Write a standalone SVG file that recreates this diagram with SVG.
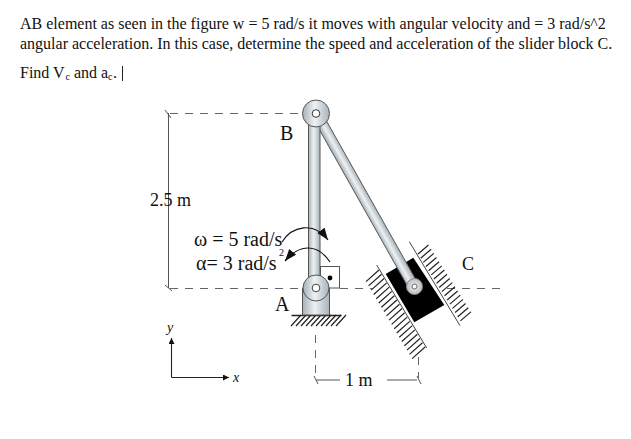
<svg xmlns="http://www.w3.org/2000/svg" width="631" height="439" viewBox="0 0 631 439">
<style>
text{font-family:"Liberation Serif","Times New Roman",serif;fill:#111}
.p{font-size:16px}.l{font-size:20px}.m{font-size:18px}
.thin{fill:none;stroke:#555;stroke-width:1}
.dash{fill:none;stroke:#666;stroke-width:1;stroke-dasharray:8 7}
.hat{fill:none;stroke:#222;stroke-width:1.2}
.rail{fill:none;stroke:#444;stroke-width:1}
.bar{stroke:#555;stroke-width:1}
.ax{fill:none;stroke:#222;stroke-width:1.1}
.curve{fill:none;stroke:#111;stroke-width:1.2}
</style>
<defs>
<linearGradient id="g" x1="0" x2="1" y1="0" y2="0"><stop offset="0" stop-color="#a6b1b8"/><stop offset=".45" stop-color="#eef1f3"/><stop offset="1" stop-color="#a8b3ba"/></linearGradient>
<linearGradient id="gd" gradientUnits="userSpaceOnUse" x1="377" y1="232.600" x2="386.400" y2="227.400"><stop offset="0" stop-color="#a6b1b8"/><stop offset=".45" stop-color="#eef1f3"/><stop offset="1" stop-color="#a8b3ba"/></linearGradient>
<radialGradient id="gc"><stop offset="0" stop-color="#f2f4f5"/><stop offset="1" stop-color="#b4bec5"/></radialGradient>
<marker id="a" markerWidth="8" markerHeight="8" refX="6" refY="3" orient="auto" markerUnits="userSpaceOnUse"><path d="M0 0L6 3L0 6z" fill="#111"/></marker>
<marker id="b" markerWidth="14" markerHeight="10" refX="12" refY="4.500" orient="auto" markerUnits="userSpaceOnUse"><path d="M0 0L12 4.500L0 9z" fill="#111"/></marker>
</defs>
<rect width="631" height="439" fill="#fff"/>
<g id="statement">
<text class="p" x="20" y="29">AB element as seen in the figure w = 5 rad/s it moves with angular velocity and = 3 rad/s^2</text>
<text class="p" x="20" y="49">angular acceleration. In this case, determine the speed and acceleration of the slider block C.</text>
<text class="p" x="20" y="78">Find V</text><text x="65.500" y="80" font-size="10">c</text><text class="p" x="74" y="78">and a</text><text x="108" y="80" font-size="10">c</text><text class="p" x="113" y="78">.</text>
<path d="M122.500 66V81" stroke="#222" stroke-width="1"/>
</g>
<g id="connectors">
<path class="dash" d="M170 113.500H302"/>
<path class="dash" d="M170 288.500H302M340 288.500H372M447 288.500H500"/>
<path class="thin" d="M168.500 113V288M165 110L171 118M165 285L172 291"/>
<path class="dash" d="M315.500 335V378M418.500 357V378"/>
<path class="thin" d="M316 380H340M387 380H417M314 376L318 384M417 376L421 384"/>
<path class="ax" marker-end="url(#a)" d="M171.500 377.500V338"/>
<path class="ax" marker-end="url(#a)" d="M171.500 377.500H229"/>
</g>
<g id="slider-C">
<path class="hat" d="M379 270l-13 11.600m15.560 -7.320l-13 11.600m15.560 -7.320l-13 11.600m15.560 -7.320l-13 11.600m15.560 -7.320l-13 11.600m15.560 -7.320l-13 11.600m15.560 -7.320l-13 11.600m15.560 -7.320l-13 11.600m15.560 -7.320l-13 11.600m15.560 -7.320l-13 11.600m15.560 -7.320l-13 11.600m15.560 -7.320l-13 11.600m15.560 -7.320l-13 11.600m15.560 -7.320l-13 11.600m15.560 -7.320l-13 11.600m15.560 -7.320l-13 11.600m15.560 -7.320l-13 11.600m15.560 -7.320l-13 11.600m15.560 -7.320l-13 11.600"/>
<path class="hat" d="M418 254l10.500 -9m-7.850 13.180l10.500 -9m-7.850 13.180l10.500 -9m-7.850 13.180l10.500 -9m-7.850 13.180l10.500 -9m-7.850 13.180l10.500 -9m-7.850 13.180l10.500 -9m-7.850 13.180l10.500 -9m-7.850 13.180l10.500 -9m-7.850 13.180l10.500 -9m-7.850 13.180l10.500 -9m-7.850 13.180l10.500 -9m-7.850 13.180l10.500 -9m-7.850 13.180l10.500 -9m-7.850 13.180l10.500 -9m-7.850 13.180l10.500 -9m-7.850 13.180l10.500 -9"/>
<path class="rail" d="M376.700 265L426.700 348M409.300 241.700L460 325.700"/>
<polygon points="385.700,274 413.300,257.700 444.300,305 414.300,322.300" fill="#000"/>
</g>
<g id="link-BC">
<polygon class="bar" points="310,113 322,113 420,287 408,287" fill="url(#gd)"/>
<circle cx="414.500" cy="286.500" r="8" fill="url(#gc)" stroke="#888"/>
<circle cx="414.500" cy="286.500" r="2.500" fill="#fff" stroke="#666"/>
</g>
<g id="node-A">
<path class="hat" d="M291 326l10 -11m-5 11l10 -11m-5 11l10 -11m-5 11l10 -11m-5 11l10 -11m-5 11l10 -11m-5 11l10 -11m-5 11l10 -11m-5 11l10 -11m-5 11l10 -11"/>
<path d="M291.500 315.500H341.500" stroke="#222" stroke-width="1.300"/>
<path class="bar" d="M302.500 315V288H329.500V315z" fill="url(#g)"/>
<rect x="320.500" y="266.500" width="19" height="21.500" fill="none" stroke="#555"/>
<circle cx="330" cy="278" r="2.400" fill="#000"/>
</g>
<g id="bar-AB">
<rect class="bar" x="308.500" y="122" width="11.500" height="155" fill="url(#g)"/>
</g>
<g id="pin-A">
<circle cx="316" cy="288" r="13" fill="url(#g)" stroke="#555"/>
<circle cx="316" cy="288" r="3.800" fill="#fff" stroke="#444"/>
</g>
<g id="node-B">
<circle cx="316" cy="113.500" r="13.500" fill="url(#g)" stroke="#555"/>
<circle cx="316" cy="113.500" r="3.800" fill="#fff" stroke="#333"/>
</g>
<g id="moment-arrows">
<path class="curve" marker-end="url(#b)" d="M282 242C292 226 314 221 328 240"/>
<path class="curve" marker-end="url(#b)" d="M330 262C318 244 300 243 285 261"/>
</g>
<g id="labels">
<text class="l" x="280" y="140">B</text>
<text class="l" x="275" y="311">A</text>
<text x="462" y="270" font-size="18">C</text>
<text class="m" x="150" y="206">2.5 m</text>
<text class="l" x="194" y="246">ω = 5 rad/s</text>
<text class="l" x="196" y="270">α= 3 rad/s</text>
<text x="279" y="256" font-size="10">2</text>
<text x="345" y="386" class="m">1 m</text>
<text x="167" y="332" font-size="14" font-style="italic">y</text>
<text x="233" y="382" font-size="14" font-style="italic">x</text>
</g>
</svg>
